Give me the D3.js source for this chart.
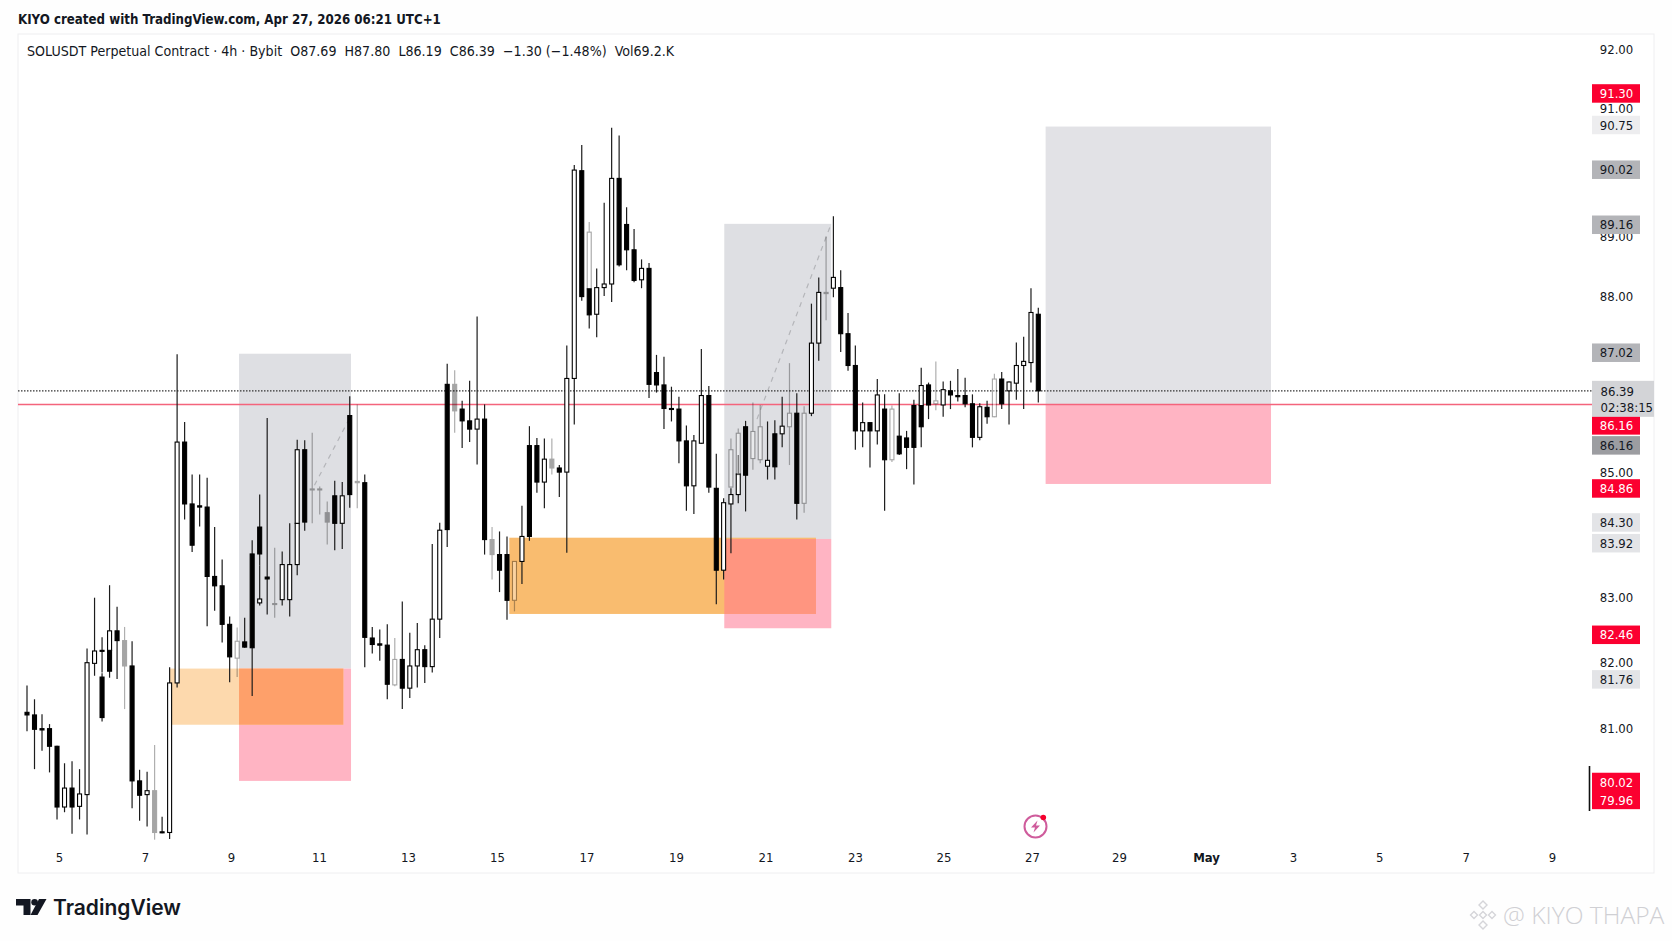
<!DOCTYPE html>
<html>
<head>
<meta charset="utf-8">
<script src="https://cdn.jsdelivr.net/npm/d3@7"></script>
<style>
  html, body { margin: 0; padding: 0; background: #fefefe; }
  svg { display: block; }
  text { font-family: "DejaVu Sans Condensed", "DejaVu Sans", sans-serif; font-size: 13px; fill: #131722; }
</style>
</head>
<body>
<div id="chart"></div>
<script>
// 4h candles. The last 8 entries are overlapping candles at the same bar slot.
const barIndex = [...d3.range(137), 10, 11, 31, 36, 75, 94, 95, 120];

const opens = [
  81.24, 81.20, 80.99, 80.99, 80.72, 79.79, 80.08, 79.80, 79.98, 81.99,
  82.19, 82.19, 82.49, 82.34, 81.95, 80.19, 79.98, 80.04, 79.41, 79.40,
  81.69, 85.52, 84.50, 84.47, 84.45, 83.34, 83.19, 82.59, 82.07, 82.32,
  83.70, 84.13, 83.33, 82.91, 82.97, 82.97, 83.53, 85.39, 84.74, 84.74,
  84.36, 84.63, 84.19, 85.97, 84.86, 84.84, 82.38, 82.29, 82.27, 81.66,
  82.05, 81.61, 81.95, 82.20, 81.94, 82.67, 86.50, 86.50, 86.08, 85.88,
  85.74, 85.91, 83.93, 83.69, 83.69, 82.96, 83.58, 85.46, 85.46, 84.85,
  85.23, 85.08, 85.01, 86.60, 90.02, 88.12, 87.69, 88.14, 88.20, 89.90,
  89.18, 88.77, 88.27, 88.46, 86.70, 86.49, 86.09, 86.08, 85.54, 84.79,
  85.50, 86.31, 84.75, 83.44, 84.50, 84.65, 85.78, 85.24, 85.22, 85.11,
  85.66, 85.66, 85.78, 86.01, 84.51, 86.01, 87.20, 88.06, 88.13, 88.14,
  87.36, 86.82, 85.71, 85.85, 85.71, 86.08, 85.22, 85.62, 85.59, 86.14,
  86.14, 86.49, 86.17, 86.15, 86.39, 86.31, 86.31, 86.17, 85.60, 86.11,
  85.95, 86.59, 86.39, 86.52, 86.82, 86.87, 87.69,
  81.78, 82.19, 82.92, 84.19, 88.12, 84.77, 84.97, 86.14
];
const highs = [
  81.65, 81.44, 81.21, 81.06, 80.73, 80.46, 80.49, 80.37, 82.22, 83.00,
  82.39, 83.20, 82.86, 82.55, 82.33, 80.36, 80.33, 80.74, 79.64, 81.93,
  87.01, 85.86, 84.97, 84.97, 84.92, 84.13, 83.61, 82.71, 82.54, 82.69,
  83.92, 84.65, 85.93, 83.80, 83.74, 84.19, 85.56, 85.55, 85.68, 84.78,
  84.54, 84.87, 84.85, 86.30, 86.16, 84.97, 82.55, 82.51, 82.59, 82.38,
  82.94, 82.46, 82.61, 82.27, 83.86, 84.20, 86.85, 86.74, 86.22, 86.56,
  87.65, 86.16, 84.13, 84.06, 83.98, 83.58, 84.47, 85.79, 85.59, 85.58,
  85.58, 85.13, 87.16, 90.11, 90.42, 88.12, 88.46, 89.52, 90.69, 90.57,
  89.45, 89.11, 88.61, 88.55, 87.00, 86.97, 86.46, 86.29, 85.80, 85.64,
  87.10, 86.47, 85.32, 84.59, 84.75, 85.30, 85.88, 86.19, 86.15, 85.87,
  85.89, 86.29, 86.86, 86.35, 86.13, 87.87, 88.31, 88.99, 89.31, 88.43,
  87.71, 87.16, 86.19, 85.85, 86.59, 86.33, 86.14, 86.35, 85.71, 86.24,
  86.78, 86.53, 86.89, 86.55, 86.56, 86.76, 86.61, 86.33, 86.18, 86.22,
  86.68, 86.71, 86.55, 87.21, 87.31, 88.13, 87.80,
  81.84, 82.49, 83.52, 85.39, 89.22, 85.58, 85.75, 86.48
];
const lows = [
  80.95, 80.37, 80.65, 80.32, 79.60, 79.71, 79.38, 79.60, 79.37, 81.80,
  81.85, 81.77, 81.75, 81.29, 79.77, 79.58, 79.49, 79.29, 79.39, 79.30,
  81.62, 84.25, 83.73, 84.14, 82.56, 82.80, 82.31, 81.70, 81.78, 82.23,
  81.49, 83.52, 82.74, 82.69, 82.88, 82.71, 83.36, 84.07, 84.19, 84.33,
  83.85, 83.76, 83.78, 84.44, 84.43, 81.93, 82.14, 82.03, 81.44, 81.64,
  81.29, 81.46, 81.62, 81.69, 81.85, 82.38, 83.81, 85.68, 85.42, 85.52,
  85.14, 83.69, 83.29, 83.09, 82.66, 82.79, 83.22, 83.91, 84.68, 84.43,
  84.97, 84.61, 83.72, 85.82, 87.92, 87.45, 87.30, 88.00, 87.90, 88.49,
  88.43, 88.23, 88.13, 86.27, 86.36, 85.74, 85.87, 85.16, 84.39, 84.34,
  85.49, 84.68, 82.90, 83.29, 83.71, 84.51, 84.38, 85.05, 85.16, 84.89,
  84.89, 85.43, 85.13, 84.25, 84.36, 85.96, 86.90, 87.59, 87.98, 87.05,
  86.73, 85.39, 85.43, 85.09, 85.48, 84.39, 85.18, 85.30, 85.06, 84.81,
  85.43, 85.91, 86.06, 85.95, 86.08, 86.21, 86.11, 85.43, 85.55, 85.83,
  85.94, 86.08, 85.82, 86.24, 86.08, 86.53, 86.19,
  81.10, 82.19, 82.88, 84.19, 88.12, 84.77, 84.97, 86.14
];
const closes = [
  81.20, 80.98, 80.97, 80.72, 79.79, 80.08, 79.79, 79.99, 82.00, 82.18,
  82.18, 81.87, 82.34, 81.95, 80.19, 79.97, 80.04, 79.40, 79.40, 81.69,
  85.52, 84.50, 83.84, 84.45, 83.34, 83.19, 82.59, 82.09, 82.33, 82.24,
  82.23, 83.70, 83.30, 82.90, 83.53, 83.53, 84.19, 84.21, 84.73, 84.73,
  84.21, 84.19, 84.63, 84.65, 84.84, 82.39, 82.28, 82.27, 81.67, 82.05,
  81.61, 81.95, 82.20, 81.94, 82.67, 84.08, 84.09, 86.05, 85.88, 85.74,
  85.91, 83.93, 83.69, 83.44, 82.96, 83.58, 83.98, 83.98, 84.85, 85.23,
  85.08, 85.01, 86.60, 90.03, 87.99, 87.68, 88.14, 88.20, 89.90, 88.52,
  88.77, 88.26, 88.46, 86.50, 86.49, 86.09, 86.08, 85.54, 84.79, 85.54,
  86.31, 84.77, 83.44, 84.52, 84.65, 84.98, 84.96, 85.70, 85.78, 85.21,
  85.10, 85.79, 86.01, 84.51, 86.01, 87.20, 88.06, 88.04, 88.31, 87.36,
  86.82, 85.71, 85.85, 85.71, 86.32, 85.22, 86.08, 85.32, 85.43, 85.43,
  85.78, 86.15, 86.22, 86.41, 86.32, 86.29, 86.17, 85.60, 86.12, 85.95,
  86.59, 86.17, 86.54, 86.82, 86.89, 87.72, 86.39,
  81.16, 82.49, 82.98, 85.39, 89.06, 85.39, 85.67, 86.48
];
// candles that show only as a pale ghost in the picture
const ghostBars = [13, 17, 28, 33, 38, 39, 40, 44, 49, 57, 62, 65, 70, 97, 98, 102, 104, 107, 116, 122, 130, 141, 142, 143];

// price axis
const priceTicks = [92, 91, 89, 88, 85, 83, 82, 81];
const priceTags = [91.30, 90.75, 90.02, 89.16, 87.02, 86.39, 86.16, 86.16, 84.86, 84.30, 83.92, 82.46, 81.76, 80.02, 79.96];
const tagKinds = ['red', 'g1', 'g4', 'g4', 'g4', 'g3', 'red', 'g5', 'red', 'g2', 'g2', 'red', 'g2', 'red', 'red'];
const tagNudges = [3, 1, -1, -1, -1, 0, 21, 41, 7, 6, 3, 7, 1, -10, 4];
const countdown = '02:38:15';

// time axis
const dateTicks = d3.utcDays(new Date(Date.UTC(2026, 3, 5)), new Date(Date.UTC(2026, 4, 10)), 2);

// position tools: [fromBar, toBar, top, bottom, kind]
const zoneFrom = [28.25, 28.25, 19.05, 28.25, 93.09, 93.09, 64.31, 93.09, 137, 137];
const zoneTo = [43.17, 43.17, 42.15, 42.15, 107.71, 107.71, 105.62, 105.62, 167.8, 167.8];
const zoneTop = [87.02, 81.91, 81.91, 81.91, 89.19, 83.94, 83.96, 83.94, 90.71, 86.16];
const zoneBottom = [81.91, 80.19, 81.05, 81.05, 83.94, 82.53, 82.75, 82.75, 86.16, 84.82];
const zoneKinds = ['target', 'stop', 'paleOrange', 'overlapA', 'target', 'stop', 'orange', 'overlapB', 'targetPale', 'stop'];

// dashed projection lines [barA, priceA, barB, priceB]
const projections = [[38.3, 84.80, 43, 85.93], [97.56, 85.91, 107.63, 89.17]];

const lastPrice = 86.39;
const markPrice = 86.16;

const W = 1672, H = 941;
const frame = { left: 18, top: 34, right: 1654, bottom: 873 };
const plotRight = 1592;

const zoneColors = {
  target: '#dedfe3', targetPale: '#e2e2e6', stop: '#ffb4c3', paleOrange: '#fdd9ad', orange: '#f9bc6f',
  overlapA: '#fea06a', overlapB: '#ff9580'
};
const tagColors = {
  red: '#fb0030', g1: '#ededef', g2: '#e3e4e7', g3: '#d3d4d7', g4: '#b3b4b8', g5: '#9c9da1'
};

const svg = d3.select('#chart').append('svg').attr('width', W).attr('height', H);

svg.append('rect').attr('width', W).attr('height', H).attr('fill', '#fefefe');
svg.append('rect')
  .attr('x', frame.left).attr('y', frame.top)
  .attr('width', frame.right - frame.left).attr('height', frame.bottom - frame.top)
  .attr('fill', '#fff').attr('stroke', '#eeeef0');

// the picture's price axis is not quite regular, so the scale is anchored on its tick labels
const y = d3.scaleLinear()
  .domain(priceTicks)
  .range([49.5, 108, 236, 296, 472.7, 597.7, 662.7, 728]);

// candle spacing drifts slightly along the picture
const x = d3.scaleLinear()
  .domain([0, 52, 92, 136])
  .range([27, 417.3, 716.3, 1038.3]);

const day = (m, d) => new Date(Date.UTC(2026, m, d));
const dateX = d3.scaleUtc()
  .domain([day(3, 5), day(3, 9), day(3, 11), day(3, 15), day(3, 23), day(3, 27), day(4, 3), day(4, 9)])
  .range([59, 231, 319, 497, 855, 1032, 1293, 1552]);

// zones
svg.append('g').selectAll('rect')
  .data(zoneKinds)
  .join('rect')
  .attr('x', (d, i) => x(zoneFrom[i]))
  .attr('y', (d, i) => y(zoneTop[i]))
  .attr('width', (d, i) => x(zoneTo[i]) - x(zoneFrom[i]))
  .attr('height', (d, i) => y(zoneBottom[i]) - y(zoneTop[i]))
  .attr('fill', d => zoneColors[d]);

// projections
svg.append('g').selectAll('line')
  .data(projections)
  .join('line')
  .attr('x1', d => x(d[0])).attr('y1', d => y(d[1]))
  .attr('x2', d => x(d[2])).attr('y2', d => y(d[3]))
  .attr('stroke', '#b4b5b9').attr('stroke-width', 1.2).attr('stroke-dasharray', '5 5');

// price lines
svg.append('line')
  .attr('x1', frame.left).attr('x2', plotRight)
  .attr('y1', y(lastPrice)).attr('y2', y(lastPrice))
  .attr('stroke', '#333').attr('stroke-width', 1.2).attr('stroke-dasharray', '1.5 1.5');
svg.append('line')
  .attr('x1', frame.left).attr('x2', plotRight)
  .attr('y1', y(markPrice)).attr('y2', y(markPrice))
  .attr('stroke', '#f4647c').attr('stroke-width', 1.5);

// candles
const bars = barIndex.map((b, i) => ({ i, b, o: opens[i], h: highs[i], l: lows[i], c: closes[i] }));
const bodyW = 4;
const candle = svg.append('g').selectAll('g')
  .data(bars)
  .join('g')
  .attr('opacity', d => ghostBars.includes(d.i) ? 0.35 : 1);

candle.append('line')
  .attr('x1', d => x(d.b)).attr('x2', d => x(d.b))
  .attr('y1', d => y(d.h)).attr('y2', d => y(d.l))
  .attr('stroke', '#1c1c1c').attr('stroke-width', 1.2);

candle.append('rect')
  .attr('x', d => x(d.b) - bodyW / 2)
  .attr('y', d => y(Math.max(d.o, d.c)))
  .attr('width', bodyW)
  .attr('height', d => Math.max(1, y(Math.min(d.o, d.c)) - y(Math.max(d.o, d.c))))
  .attr('fill', d => d.c >= d.o ? '#fff' : '#000')
  .attr('stroke', '#000').attr('stroke-width', 1.1);

// price axis
const yAxis = svg.append('g')
  .attr('transform', 'translate(1616.5,0)')
  .call(d3.axisRight(y).tickValues(priceTicks).tickFormat(d3.format('.2f')).tickSize(0));
yAxis.select('.domain').remove();
yAxis.selectAll('text').attr('x', 0).attr('text-anchor', 'middle')
  .style('font-family', '"DejaVu Sans Condensed", "DejaVu Sans", sans-serif').style('font-size', '13px').style('fill', '#131722');

// price tags on top of the axis
const tagH = 18.5;
const tags = svg.append('g').selectAll('g')
  .data(priceTags)
  .join('g')
  .attr('transform', (d, i) => `translate(0,${y(d) + (i === 11 ? 2 : tagNudges[i])})`);
tags.append('rect')
  .attr('x', 1592).attr('y', -tagH / 2).attr('width', 48).attr('height', tagH)
  .attr('fill', (d, i) => tagColors[tagKinds[i]]);
tags.append('text')
  .attr('x', 1616.5).attr('dy', '0.36em').attr('text-anchor', 'middle')
  .style('fill', (d, i) => tagKinds[i] === 'red' ? '#fff' : '#131722')
  .text(d => d3.format('.2f')(d));

// last price tag also carries the bar countdown
const lastY = y(lastPrice);
svg.append('rect')
  .attr('x', 1592).attr('y', lastY - 10).attr('width', 62).attr('height', 36)
  .attr('fill', tagColors.g3);
svg.append('text').attr('x', 1600.5).attr('y', lastY).attr('dy', '0.36em').text(d3.format('.2f')(lastPrice));
svg.append('text').attr('x', 1600.5).attr('y', lastY + 16).attr('dy', '0.36em').text(countdown);

// replay cursor beside the lowest tags
svg.append('line')
  .attr('x1', 1589.5).attr('x2', 1589.5).attr('y1', 766).attr('y2', 811)
  .attr('stroke', '#111').attr('stroke-width', 1.6);

// time axis
const fmtDate = d => d.getUTCMonth() === 4 && d.getUTCDate() === 1 ? 'May' : String(d.getUTCDate());
const xAxis = svg.append('g')
  .attr('transform', 'translate(0,850)')
  .call(d3.axisBottom(dateX).tickValues(dateTicks).tickFormat(fmtDate).tickSize(0));
xAxis.select('.domain').remove();
xAxis.selectAll('text')
  .attr('y', 7).attr('dy', '0.36em')
  .style('font-family', '"DejaVu Sans Condensed", "DejaVu Sans", sans-serif').style('font-size', '13px').style('fill', '#131722')
  .style('font-weight', d => fmtDate(d) === 'May' ? 'bold' : 'normal');

// header texts
svg.append('text').attr('x', 18).attr('y', 24)
  .style('font-weight', 'bold').style('font-size', '13.2px')
  .text('KIYO created with TradingView.com, Apr 27, 2026 06:21 UTC+1');
svg.append('text').attr('x', 27).attr('y', 56)
  .style('font-size', '14.1px')
  .text('SOLUSDT Perpetual Contract · 4h · Bybit\u00a0\u00a0O87.69\u00a0\u00a0H87.80\u00a0\u00a0L86.19\u00a0\u00a0C86.39\u00a0\u00a0−1.30 (−1.48%)\u00a0\u00a0Vol69.2.K');

// flash badge
const badge = svg.append('g').attr('transform', 'translate(1035.5,826.5)');
badge.append('circle').attr('r', 11).attr('fill', '#fff').attr('stroke', '#cf5c9c').attr('stroke-width', 2);
badge.append('path').attr('d', 'M2 -6 L-4.5 1 L-0.5 1 L-2 6 L4.5 -1 L0.5 -1 Z').attr('fill', '#cf5c9c');
badge.append('circle').attr('cx', 7.8).attr('cy', -9).attr('r', 2.8).attr('fill', '#f5002c');

// TradingView logo
const logo = svg.append('g').attr('fill', '#131722');
logo.append('path').attr('d', 'M16 899 H30.5 V915 H23.5 V905.5 H16 Z');
logo.append('circle').attr('cx', 34.6).attr('cy', 902.2).attr('r', 3.3);
logo.append('path').attr('d', 'M39 899 H46.5 L37.5 915 H30.5 Z');
svg.append('text').attr('x', 53).attr('y', 915)
  .style('font-family', 'Inter, sans-serif').style('font-size', '21px').style('font-weight', 600)
  .text('TradingView');

// watermark
const mark = svg.append('g').attr('fill', 'none').attr('stroke', '#d5d5d9').attr('stroke-width', 1.4);
[[1483, 905, 4], [1474, 915, 3.5], [1492, 915, 3.5], [1483, 915, 3.5], [1483, 925, 4]].forEach(([cx, cy, r]) => {
  mark.append('path').attr('d', `M${cx} ${cy - r} L${cx + r} ${cy} L${cx} ${cy + r} L${cx - r} ${cy} Z`);
});
svg.append('text').attr('x', 1503).attr('y', 924)
  .style('font-family', '"Open Sans", sans-serif').style('font-size', '24.6px').style('font-weight', 300).style('fill', '#d0d0d4')
  .text('@ KIYO THAPA');
</script>
</body>
</html>
